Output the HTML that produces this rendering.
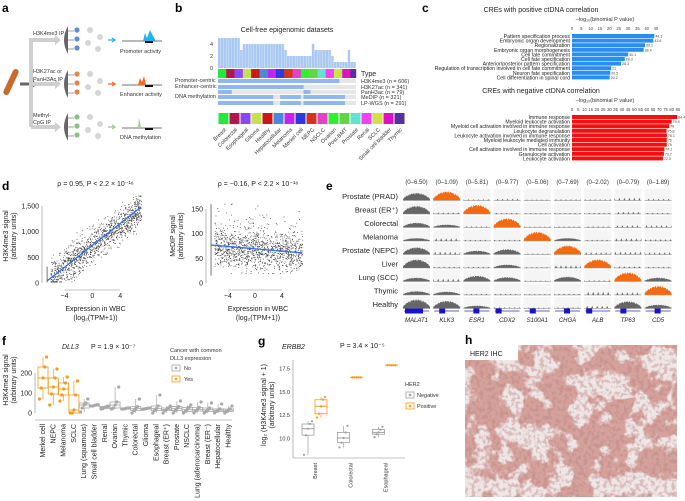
<!DOCTYPE html>
<html><head><meta charset="utf-8">
<style>
html,body{margin:0;padding:0;background:#fff;}
svg{display:block;font-family:"Liberation Sans",sans-serif;}
.lbl{font-weight:bold;font-size:12px;}
.t{font-size:7px;fill:#222;}
.s{font-size:5.5px;fill:#333;}
</style></head>
<body>
<svg id="fig" width="685" height="501" viewBox="0 0 685 501" xmlns="http://www.w3.org/2000/svg">
<defs>
<filter id="tissue" x="0" y="0" width="100%" height="100%">
<feTurbulence type="fractalNoise" baseFrequency="0.04" numOctaves="4" seed="7" result="n"/>
<feColorMatrix in="n" type="matrix" values="0 0 0 0 0.66  0 0 0 0 0.36  0 0 0 0 0.33  12 0 0 0 -5.2"/>
</filter>
<filter id="tissue2" x="0" y="0" width="100%" height="100%">
<feTurbulence type="fractalNoise" baseFrequency="0.25" numOctaves="2" seed="3" result="n"/>
<feColorMatrix in="n" type="matrix" values="0 0 0 0 0.5  0 0 0 0 0.22  0 0 0 0 0.22  6 0 0 0 -2.8"/>
</filter>
</defs>
<g id="pa"></g>
<g id="pb"></g>
<g id="pc"></g>
<g id="pd"></g>
<g id="pe"></g>
<g id="pf"></g>
<g id="pg"></g>
<g id="ph">
<rect x="465" y="345" width="212" height="152" fill="#efe6e6"/>
<rect x="465" y="345" width="212" height="152" filter="url(#tissue)"/>
<rect x="465" y="345" width="212" height="152" filter="url(#tissue2)" opacity="0.4"/>
<rect x="465" y="345" width="53" height="15" fill="#fff"/>
<text x="470" y="356" class="t">HER2 IHC</text>
<text x="465" y="344" class="lbl">h</text>
</g>
</svg>
<script>
// ---------- data arrays ----------
const bBarValues=[5,5,5,5,5,5,5,5,3,4,4,4,4,4,4,4,4,4,4,4,4,4,4,4,3,2,2,2,2,2,2,2,2,2,4,3,3,3,3,3,3,2,1,1,1,1,1,3,1,1];
const bCategories=["Breast","Colorectal","Esophageal","Glioma","Healthy","Hepatocellular","Melanoma","Merkel cell","NEPC","NSCLC","Ovarian","Post-BMT","Prostate","Renal","SCLC","Small cell bladder","Thymic"];
const bCatColors=["#25e63c","#b0184c","#8a48f2","#c6e052","#c8181a","#4a88de","#c622f0","#2a3ae0","#d23420","#e042c8","#32ee32","#62d448","#62e2d2","#f242f0","#d2e044","#e010c2","#52309e"];
const bTypeNames=["H3K4me3 (n = 606)","H3K27ac (n = 341)","PanH3ac (n = 79)","MeDIP (n = 321)","LP-WGS (n = 291)"];
const cPosTerms=["Pattern specification process","Embryonic organ development","Regionalization","Embryonic organ morphogenesis","Cell fate commitment","Cell fate specification","Anterior/posterior pattern specification","Regulation of transcription involved in cell fate commitment","Neuron fate specification","Cell differentiation in spinal cord"];
const cPosValues=[44.1,43.6,39.1,38.4,30.1,28.3,26.3,21,20.5,20.2];
const cPosTicks=[0,5,10,15,20,25,30,35,40,45];
const cNegTerms=["Immune response","Myeloid leukocyte activation","Myeloid cell activation involved in immune response","Leukocyte degranulation","Leukocyte activation involved in immune response","Myeloid leukocyte mediated immunity","Cell activation","Cell activation involved in immune response","Granulocyte activation","Leukocyte activation"];
const cNegValues=[84.4,79.9,78,75.8,76.1,76,76,74.1,73.7,72.9];
const cNegTicks=[0,5,10,15,20,25,30,35,40,45,50,55,60,65,70,75,80,85];
const dLeftYTicks=[0,500,1000,1500];
const dLeftYTickLabels=["0","500","1,000","1,500"];
const dRightYTicks=[0,50,100,150];
const dXTicks=[-4,0,4];
const dLeftFit=[[-6.5,40],[7,1480]];
const dRightFit=[[-6.5,77],[7,61]];
const eRows=["Prostate (PRAD)","Breast (ER\u207A)","Colorectal","Melanoma","Prostate (NEPC)","Liver","Lung (SCC)","Thymic","Healthy"];
const eGenes=["MALAT1","KLK3","ESR1","CDX2","S100A1","CHGA","ALB","TP63","CD5"];
const eRanges=["(0\u20136.50)","(0\u20131.09)","(0\u20135.81)","(0\u20139.77)","(0\u20135.06)","(0\u20137.69)","(0\u20132.02)","(0\u20130.79)","(0\u20131.89)"];
const eSignal=[
[0.8,0.95,0.05,0.1,0.02,0.05,0.05,0.2,0.1],
[0.85,0.08,0.95,0.05,0.02,0.03,0.05,0.15,0.05],
[0.5,0.3,0.05,0.95,0.02,0.03,0.05,0.15,0.15],
[0.3,0.2,0.05,0.05,0.95,0.3,0.05,0.2,0.1],
[0.75,0.2,0.4,0.55,0.02,0.95,0.15,0.2,0.15],
[0.9,0.05,0.05,0.35,0.02,0.2,0.9,0.1,0.05],
[0.4,0.2,0.6,0.45,0.02,0.5,0.05,0.95,0.4],
[0.4,0.35,0.05,0.05,0.02,0.05,0.25,0.2,0.95],
[0.95,0.8,0.3,0.05,0.02,0.05,0.2,0.75,0.4]];
const fCategories=["Merkel cell","NEPC","Melanoma","SCLC","Lung (squamous)","Small cell bladder","Renal","Ovarian","Thymic","Colorectal","Glioma","Esophageal","Breast (ER\u207A)","Prostate","NSCLC","Lung (adenocarcinoma)","Breast (ER\u207B)","Hepatocellular","Healthy"];
const fDll3=[1,1,1,1,0,0,0,0,0,0,0,0,0,0,0,0,0,0,0];
const fMedian=[175,130,120,15,40,38,28,40,22,22,22,22,18,22,18,18,16,14,14];
const fQ1=[125,95,90,0,25,35,22,25,20,12,20,12,12,12,8,10,8,8,8];
const fQ3=[230,175,150,90,50,40,32,55,25,32,24,35,25,32,28,28,25,20,20];
const fLow=[70,40,60,0,5,35,20,20,20,0,18,0,0,0,0,0,0,0,0];
const fHigh=[280,220,180,160,70,42,35,130,25,70,25,90,35,60,40,55,50,45,35];
const fYTicks=[0,100,200];
const gCategories=["Breast","Colorectal","Esophageal"];
const gNegMedian=[11,10,10.6];
const gNegQ1=[10.3,9.5,10.4];
const gNegQ3=[11.5,10.6,10.9];
const gNegLow=[8.2,9.0,10.1];
const gNegHigh=[11.8,11.3,11.2];
const gPosMedian=[13.4,16.5,17.8];
const gPosQ1=[12.6,16.5,17.8];
const gPosQ3=[14.1,16.5,17.8];
const gPosLow=[12.2,16.5,17.8];
const gPosHigh=[14.4,16.5,17.8];
const gYTicks=[10.0,12.5,15.0,17.5];

const NS="http://www.w3.org/2000/svg";
function mk(parent,tag,attrs,text){const e=document.createElementNS(NS,tag);for(const k in attrs)e.setAttribute(k,attrs[k]);if(text!==undefined)e.textContent=text;parent.appendChild(e);return e;}
// deterministic hash for texture only
let seed=12345;function rnd(){seed=(seed*1103515245+12345)&0x7fffffff;return seed/0x7fffffff;}
function gauss(){return (rnd()+rnd()+rnd()+rnd()-2)/0.58;}

// ---------- panel a ----------
(function(){
const g=document.getElementById('pa');
let e=mk(g,'text',{x:2,y:12,class:'lbl'},'a');

e=mk(g,'rect',{x:8,y:68,width:6,height:28,rx:3,fill:'#c86a2a',transform:'rotate(25 11 82)'});

mk(g,'path',{d:'M20 84 H34 M30 80 L35 84 L30 88',stroke:'#666',fill:'none','stroke-width':3});
mk(g,'path',{d:'M31 127 V40 H58 M31 84 H58 M31 127 H58',stroke:'#cfcfcf',fill:'none','stroke-width':4});
[40,84,127].forEach((y,i)=>{
 mk(g,'path',{d:`M55 ${y-5} L61 ${y} L55 ${y+5}Z`,fill:'#cfcfcf'});
 mk(g,'path',{d:`M68 ${y-14} Q60 ${y} 68 ${y+14}Z`,fill:'#666'});
 const col=['#5c8ed6','#e0884a','#8ac482'][i];
 [-9,0,9].forEach(dy=>{mk(g,'line',{x1:68,y1:y+dy,x2:74,y2:y+dy,stroke:'#888','stroke-width':0.8});mk(g,'circle',{cx:77,cy:y+dy-1,r:2.6,fill:col});});
 [[90,y-10],[100,y-3],[88,y+3],[98,y+9]].forEach(p=>mk(g,'circle',{cx:p[0],cy:p[1],r:3,fill:'#d6d6d6'}));
 const ac=['#1fb4f0','#f26a24','#9ccc88'][i];
 mk(g,'path',{d:`M108 ${y} H115 M112 ${y-2} L115 ${y} L112 ${y+2}`,stroke:ac,fill:'none','stroke-width':1.2});
 mk(g,'line',{x1:122,y1:y+1,x2:162,y2:y+1,stroke:'#444','stroke-width':0.7});
 mk(g,'rect',{x:145,y:y+1,width:8,height:2,fill:'#111'});
});
mk(g,'path',{d:'M143 41 L145 33 L147 38 L150 30 L153 36 L156 41Z',fill:'#1fb4f0'});
mk(g,'path',{d:'M138 85 L140 78 L142 82 L144 76 L146 85Z',fill:'#f26a24'});
mk(g,'path',{d:'M138 128 L139 118 L141 128Z',fill:'#9ccc88'});
[['H3K4me3 IP',33,35],['H3K27ac or',33,73],['PanH3Ac IP',33,81],['Methyl-',33,117],['CpG IP',33,124],['Promoter activity',120,53],['Enhancer activity',120,96],['DNA methylation',120,139]].forEach(t=>{
 const tx=mk(g,'text',{x:t[1],y:t[2],class:'s'},t[0]);
 });
})();

// ---------- panel b ----------
(function(){
const g=document.getElementById('pb');
let e=mk(g,'text',{x:175,y:12,class:'lbl'},'b');

e=mk(g,'text',{x:287,y:32,class:'t','text-anchor':'middle'},'Cell-free epigenomic datasets');

const x0=218,x1=356,bw=(x1-x0)/bBarValues.length;
const y=v=>68-v*6;
[0,2,4].forEach(v=>{const t=mk(g,'text',{x:213,y:y(v)+2,class:'s','text-anchor':'end'},v);
 });
bBarValues.forEach((v,i)=>{const r=mk(g,'rect',{x:x0+i*bw,y:y(v),width:bw-0.3,height:68-y(v),fill:'#a9c9f2'});
 });
for(let i=0;i<bBarValues.length;i++){const r=mk(g,'rect',{x:x0+i*bw,y:69,width:bw+0.2,height:9,fill:bCatColors[Math.floor(i*bCatColors.length/bBarValues.length)]});
 }
e=mk(g,'text',{x:361,y:76,class:'t'},'Type');
const rows=[[81,0,0.88],[87,0,0.62],[92,0,0.1],[97,0,0.4],[103,0,0.4]];
rows.forEach((r,i)=>{mk(g,'rect',{x:x0,y:r[0]-2,width:x1-x0,height:4,fill:'#e6e6e6'});
 const b=mk(g,'rect',{x:x0,y:r[0]-2,width:(x1-x0)*r[2],height:4,fill:'#8fb8f0'});
 
 if(i>=2){mk(g,'rect',{x:x0+(x1-x0)*0.62,y:r[0]-2,width:(x1-x0)*(i==2?0.05:0.3),height:4,fill:'#8fb8f0'});}
 if(i>=3){mk(g,'rect',{x:x0+(x1-x0)*0.45,y:r[0]-2,width:(x1-x0)*0.15,height:4,fill:'#8fb8f0'});}
 const t=mk(g,'text',{x:361,y:r[0]+2,class:'s'},bTypeNames[i]);});
[['Promoter-centric',82],['Enhancer-centric',88],['DNA methylation',98]].forEach(t=>{const tx=mk(g,'text',{x:175,y:t[1],class:'s'},t[0]);});
const sw=(405-x0)/bCategories.length;
bCategories.forEach((c,i)=>{const r=mk(g,'rect',{x:x0+i*sw+0.5,y:113,width:sw-1,height:11,fill:bCatColors[i]});
 
 const cx=x0+i*sw+sw/2;
 const t=mk(g,'text',{x:cx+3,y:130,class:'s','text-anchor':'end',transform:`rotate(-45 ${cx+3} 130)`},c);
 });
})();

// ---------- panel c ----------
(function(){
const g=document.getElementById('pc');
let e=mk(g,'text',{x:422,y:12,class:'lbl'},'c');
function chart(terms,vals,ticks,maxT,xEnd,yTitle,color,name){
 const x0=572;const sx=v=>x0+v*(xEnd-x0)/maxT;
 let t=mk(g,'text',{x:541,y:yTitle,class:'t','text-anchor':'middle'},name);
 t=mk(g,'text',{x:605,y:yTitle+9,class:'s','text-anchor':'middle'},'\u2013log\u2081\u2080(binomial P value)');
 ticks.forEach(v=>{const k=mk(g,'text',{x:sx(v),y:yTitle+18,style:'font-size:4.2px','text-anchor':'middle',fill:'#444'},v);});
 const top=yTitle+22;
 vals.forEach((v,i)=>{const y=top+i*4.6;
  const b=mk(g,'rect',{x:x0,y:y,width:sx(v)-x0,height:4,fill:color});
  const l=mk(g,'text',{x:sx(v)+1,y:y+3.5,style:'font-size:3.6px',fill:'#444'},v);
  const tl=mk(g,'text',{x:570,y:y+4,style:'font-size:5.2px','text-anchor':'end',fill:'#222'},terms[i]);});
}
chart(cPosTerms,cPosValues,cPosTicks,45,656,12,'#2a8ef0','CREs with positive ctDNA correlation');
chart(cNegTerms,cNegValues,cNegTicks,85,678,93,'#f21010','CREs with negative ctDNA correlation');
})();

// ---------- panel d ----------
(function(){
const g=document.getElementById('pd');
let e=mk(g,'text',{x:2,y:190,class:'lbl'},'d');
function scatter(ax,name,yTicks,yLabels,ymax,yT,fit,title,ytitle,pts){
 const sx=v=>ax.x0+(v+6.8)*(ax.x1-ax.x0)/14.5;
 const sy=v=>283-v*(283-ax.ytop)/ymax;
 const gg=mk(g,'g',{});
 mk(gg,'line',{x1:ax.x0-3,y1:sy(0),x2:ax.x0-3,y2:sy(yTicks[yTicks.length-1]),stroke:'#888','stroke-width':0.6});
 mk(gg,'line',{x1:sx(-4),y1:290,x2:sx(4),y2:290,stroke:'#888','stroke-width':0.6});
 yTicks.forEach((v,i)=>{const t=mk(gg,'text',{x:ax.x0-6,y:sy(v)+2.5,class:'t','text-anchor':'end'},yLabels[i]);});
 dXTicks.forEach(v=>{const t=mk(gg,'text',{x:sx(v),y:298,class:'t','text-anchor':'middle'},v<0?'\u2212'+(-v):v);});
 pts.forEach(p=>mk(gg,'rect',{x:sx(p[0]),y:sy(p[1]),width:0.8,height:0.8,fill:'#333'}));
 mk(gg,'line',{x1:sx(-6.5),y1:sy(yT[0]),x2:sx(-6.5),y2:sy(yT[1]),stroke:'#555','stroke-width':0.8});
 const f=mk(gg,'line',{x1:sx(fit[0][0]),y1:sy(fit[0][1]),x2:sx(fit[1][0]),y2:sy(fit[1][1]),stroke:'#2f6ef0','stroke-width':1.3});
 
 let t=mk(gg,'text',{x:(ax.x0+ax.x1)/2,y:186,class:'t','text-anchor':'middle'},title);
 t=mk(gg,'text',{x:(ax.x0+ax.x1)/2,y:311,class:'t','text-anchor':'middle'},'Expression in WBC');
 mk(gg,'text',{x:(ax.x0+ax.x1)/2,y:320,class:'t','text-anchor':'middle'},'(log\u2082(TPM+1))');
 t=mk(gg,'text',{x:0,y:0,class:'t','text-anchor':'middle',transform:`translate(${ax.tx} 236) rotate(-90)`},ytitle);
 mk(gg,'text',{x:0,y:0,class:'t','text-anchor':'middle',transform:`translate(${ax.tx+8} 236) rotate(-90)`},'(arbitrary units)');
}
// texture clouds (point-level data not readable from the picture)
const lp=[],rp=[];
for(let i=0;i<1200;i++){const x=-6+rnd()*13;const y=Math.max(30,40+(x+6.5)*106+gauss()*170);lp.push([x,Math.min(y,1700)]);}
for(let i=0;i<1200;i++){const x=-6+rnd()*13;const y=Math.max(20,76-(x+6.5)*1.2+gauss()*20+(rnd()<0.06?rnd()*70:0));rp.push([x,Math.min(y,180)]);}
scatter({x0:45,x1:146,ytop:206,tx:8},'scatter-h3k4me3',dLeftYTicks,dLeftYTickLabels,1500,[10,320],dLeftFit,'\u03C1 = 0.95, P < 2.2 \u00D7 10\u207B\u00B9\u2076','H3K4me3 signal',lp);
scatter({x0:209,x1:307,ytop:209,tx:175},'scatter-medip',dRightYTicks,dRightYTicks.map(String),150,[15,160],dRightFit,'\u03C1 = \u22120.16, P < 2.2 \u00D7 10\u207B\u00B9\u2076','MeDIP signal',rp);
})();

// ---------- panel e ----------
(function(){
const g=document.getElementById('pe');
let e=mk(g,'text',{x:326,y:190,class:'lbl'},'e');
const cx0=403,cw=30.2,pw=27,rh=13.5,ry0=189;
eRanges.forEach((r,j)=>{const t=mk(g,'text',{x:cx0+j*cw+pw/2,y:184,style:'font-size:6px','text-anchor':'middle',fill:'#333'},r);});
eRows.forEach((r,i)=>{const y0=ry0+i*rh;
 const t=mk(g,'text',{x:398,y:y0+10,class:'t','text-anchor':'end',style:'font-size:7.5px'},r);
 eGenes.forEach((gn,j)=>{const x=cx0+j*cw;
  mk(g,'rect',{x:x,y:y0,width:pw,height:rh-1,fill:'#f5f5f5'});
  const base=y0+rh-2,v=eSignal[i][j];
  const orange=(j>=1&&i===j-1);
  let d=`M${x} ${base}`;
  for(let k=0;k<=27;k++){const xx=x+k*pw/27;
   let h;
   if(v>=0.3){const hump=Math.pow(Math.sin(Math.PI*(k+0.5)/28),0.6);h=v*10*hump*(0.7+0.3*Math.abs(Math.sin(k*1.3+i*2+j)));}
   else{h=((k+i+j)%5===2)?v*10+0.8:0.3;}
   d+=` L${xx.toFixed(1)} ${(base-h).toFixed(1)}`;}
  d+=` L${x+pw} ${base}Z`;
  const p=mk(g,'path',{d:d,fill:orange?'#f56a10':'#666'});
  mk(g,'line',{x1:x,y1:base,x2:x+pw,y2:base,stroke:'#999','stroke-width':0.4});
 });});
eGenes.forEach((gn,j)=>{const x=cx0+j*cw;
 mk(g,'line',{x1:x+1,y1:311,x2:x+pw-1,y2:311,stroke:'#2a2ad0','stroke-width':0.8});
 mk(g,'rect',{x:x+2+(j%3)*4,y:308.5,width:6+(j===0?12:0),height:5,fill:'#1414c8'});
 const t=mk(g,'text',{x:x+pw/2,y:322,style:'font-size:6px;font-style:italic','text-anchor':'middle',fill:'#222'},gn);});
})();

// ---------- panel f ----------
(function(){
const g=document.getElementById('pf');
let e=mk(g,'text',{x:2,y:345,class:'lbl'},'f');
e=mk(g,'text',{x:62,y:349,class:'t',style:'font-style:italic'},'DLL3');
e=mk(g,'text',{x:91,y:349,class:'t'},'P = 1.9 \u00D7 10\u207B\u2077');
const sy=v=>413-v*0.2,sx=i=>43+i*10.3;
mk(g,'line',{x1:35,y1:sy(0),x2:35,y2:sy(200),stroke:'#888','stroke-width':0.6});
mk(g,'line',{x1:35,y1:420,x2:232,y2:420,stroke:'#888','stroke-width':0.6});
fYTicks.forEach(v=>{const t=mk(g,'text',{x:32,y:sy(v)+2.5,class:'t','text-anchor':'end'},v);});
e=mk(g,'text',{x:0,y:0,class:'t','text-anchor':'middle',transform:'translate(8 380) rotate(-90)'},'H3K4me3 signal');
mk(g,'text',{x:0,y:0,class:'t','text-anchor':'middle',transform:'translate(16 380) rotate(-90)'},'(arbitrary units)');
fCategories.forEach((c,i)=>{const col=fDll3[i]?'#f59a1a':'#a8a8a8',x=sx(i);
 mk(g,'line',{x1:x,y1:sy(fLow[i]),x2:x,y2:sy(fHigh[i]),stroke:col,'stroke-width':0.7});
 const b=mk(g,'rect',{x:x-5,y:sy(fQ3[i]),width:10,height:sy(fQ1[i])-sy(fQ3[i]),fill:'#fff',stroke:col,'stroke-width':0.8});
 
 mk(g,'line',{x1:x-5,y1:sy(fMedian[i]),x2:x+5,y2:sy(fMedian[i]),stroke:col,'stroke-width':0.8});
 [fLow[i],fQ1[i],fMedian[i],fQ3[i],fHigh[i]].forEach((v,k)=>mk(g,'circle',{cx:x+(k-2)*1.8,cy:sy(v),r:1.6,fill:col}));
 const t=mk(g,'text',{x:x+2,y:424,class:'t','text-anchor':'end',transform:`rotate(-90 ${x+2} 424)`},c);});
mk(g,'text',{x:170,y:352,class:'s'},'Cancer with common');
mk(g,'text',{x:170,y:360,class:'s'},'DLL3 expression');
[['No','#a8a8a8',368],['Yes','#f59a1a',379]].forEach(l=>{mk(g,'rect',{x:172,y:l[2]-3,width:8,height:6,fill:'#fff',stroke:l[1],'stroke-width':0.8});mk(g,'circle',{cx:176,cy:l[2],r:1.3,fill:l[1]});
 const t=mk(g,'text',{x:184,y:l[2]+2,class:'s'},l[0]);});
})();

// ---------- panel g ----------
(function(){
const g=document.getElementById('pg');
let e=mk(g,'text',{x:258,y:345,class:'lbl'},'g');
e=mk(g,'text',{x:282,y:349,class:'t',style:'font-style:italic'},'ERBB2');
e=mk(g,'text',{x:340,y:348,class:'t'},'P = 3.4 \u00D7 10\u207B\u2075');
const sy=v=>438-(v-10)*9.33,cxs=[315,350.5,385.5];
mk(g,'line',{x1:293,y1:360,x2:293,y2:458,stroke:'#888','stroke-width':0.6});
mk(g,'line',{x1:293,y1:458,x2:405,y2:458,stroke:'#888','stroke-width':0.6});
gYTicks.forEach(v=>{const t=mk(g,'text',{x:290,y:sy(v)+2.5,class:'s','text-anchor':'end'},v.toFixed(1));});
e=mk(g,'text',{x:0,y:0,class:'t','text-anchor':'middle',transform:'translate(266 405) rotate(-90)'},'log\u2082 (H3K4me3 signal + 1)');
mk(g,'text',{x:0,y:0,class:'t','text-anchor':'middle',transform:'translate(274 405) rotate(-90)'},'(arbitrary units)');
function box(x,md,q1,q3,lo,hi,col,nm){mk(g,'line',{x1:x,y1:sy(lo),x2:x,y2:sy(hi),stroke:col,'stroke-width':0.7});
 const b=mk(g,'rect',{x:x-6,y:sy(q3),width:12,height:Math.max(0.1,sy(q1)-sy(q3)),fill:'#fff',stroke:col,'stroke-width':0.8});
 
 mk(g,'line',{x1:x-6,y1:sy(md),x2:x+6,y2:sy(md),stroke:col,'stroke-width':1});
 [lo,q1,md,q3,hi].forEach((v,k)=>mk(g,'circle',{cx:x+(k-2)*2,cy:sy(v),r:1.1,fill:col}));}
gCategories.forEach((c,i)=>{box(cxs[i]-7,gNegMedian[i],gNegQ1[i],gNegQ3[i],gNegLow[i],gNegHigh[i],'#a0a0a0','her2-negative-box');
 box(cxs[i]+6,gPosMedian[i],gPosQ1[i],gPosQ3[i],gPosLow[i],gPosHigh[i],'#f59a1a','her2-positive-box');
 const t=mk(g,'text',{x:cxs[i]+2,y:463,class:'s','text-anchor':'end',transform:`rotate(-90 ${cxs[i]+2} 463)`},c);});
mk(g,'text',{x:405,y:386,class:'s'},'HER2');
[['Negative','#a0a0a0',395],['Positive','#f59a1a',406]].forEach(l=>{mk(g,'rect',{x:406,y:l[2]-3,width:8,height:6,fill:'#fff',stroke:l[1],'stroke-width':0.8});mk(g,'circle',{cx:410,cy:l[2],r:1.3,fill:l[1]});
 const t=mk(g,'text',{x:417,y:l[2]+2,class:'s'},l[0]);});
})();
</script>
</body></html>
